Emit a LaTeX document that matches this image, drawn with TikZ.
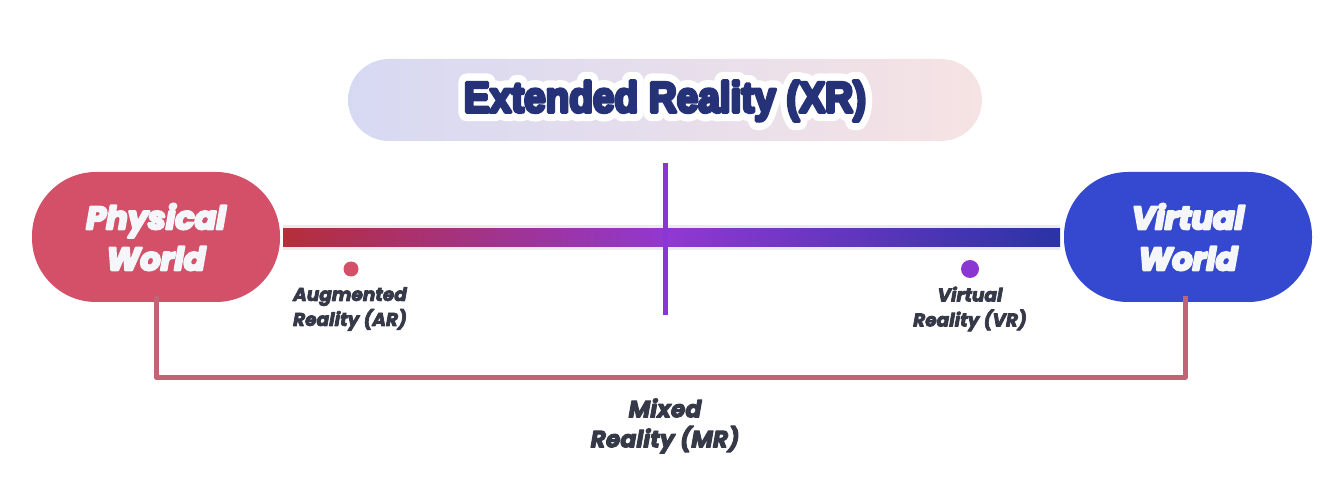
\documentclass[tikz,border=0pt]{standalone}
\usepackage{fontspec}
\newfontfamily\pop{Poppins}[FakeBold=7]
\newfontfamily\pops{Poppins}[FakeBold=4]
\newfontfamily\xrfont{Liberation Sans Bold}[FakeBold=8]
\newfontfamily\xrout{Liberation Sans Bold}[FakeBold=42]
\definecolor{pwcol}{HTML}{D44F68}
\definecolor{vwcol}{HTML}{3448D0}
\definecolor{txtlight}{HTML}{F5F6FA}
\definecolor{darktxt}{HTML}{363A48}
\definecolor{xrtext}{HTML}{263278}
\definecolor{brkt}{HTML}{C26474}
\definecolor{ardot}{HTML}{D45068}
\definecolor{vrdot}{HTML}{8B36D2}
\definecolor{vline}{HTML}{8A36D6}
\definecolor{barL}{HTML}{B62E3A}
\definecolor{barM}{HTML}{9038D2}
\definecolor{barR}{HTML}{2A33A6}
\definecolor{xrL}{HTML}{D7D9F3}
\definecolor{xrR}{HTML}{F6E3E4}
\tikzset{
  pill/.style={rectangle, rounded corners=64pt, minimum width=248pt, minimum height=130pt, inner sep=0pt,
    align=center, text=txtlight, font=\pop\bfseries\itshape\fontsize{32}{41}\selectfont},
  smalllab/.style={align=center, text=darktxt, inner sep=0pt, font=\pops\bfseries\itshape\fontsize{18.5}{25}\selectfont},
  mrlab/.style={align=center, text=darktxt, inner sep=0pt, font=\pops\bfseries\itshape\fontsize{23.5}{30}\selectfont},
  dotmark/.style={circle, inner sep=0pt},
  xrtxt/.style={inner sep=0pt, xscale=0.9},
}
\begin{document}
\begin{tikzpicture}[x=1pt,y=-1pt, line join=round]
\useasboundingbox (0,0) rectangle (1333,486);
% XR banner
\node[rectangle, rounded corners=41pt, minimum width=634pt, minimum height=82pt, left color=xrL, right color=xrR, inner sep=0pt] (xr) at (665,100) {};
\coordinate (xrc) at (665,101);
\node[xrtxt, text=white, font=\xrout\fontsize{43}{43}\selectfont] (xrw) at (xrc) {Extended Reality (XR)};
\node[xrtxt, text=xrtext, font=\xrfont\fontsize{43}{43}\selectfont] (xrt) at (xrc) {Extended Reality (XR)};
% pills
\node[pill, fill=pwcol] (pw) at (156,237) {Physical\\World};
\node[pill, fill=vwcol] (vw) at (1188,237) {Virtual\\World};
% bar
\coordinate (barl) at (283,238);
\coordinate (barr) at (1060,238);
\fill[black!12] ([yshift=-11pt]barl) rectangle ([yshift=12pt]barr);
\fill[black!8] ([yshift=-12pt]barl) rectangle ([yshift=13pt]barr);
\shade[left color=barL, right color=barR, middle color=barM] ([yshift=-9pt]barl) rectangle ([yshift=9pt]barr);
% vertical line
\coordinate (vt) at (665,163);
\coordinate (vb) at (665,315);
\draw[vline, line width=5pt] (vt) -- (vb);
% AR / VR
\node[dotmark, fill=ardot, minimum size=15pt] (ard) at (351,269) {};
\node[smalllab] (ar) at (350,309) {Augmented\\Reality (AR)};
\node[dotmark, fill=vrdot, minimum size=18pt] (vrd) at (970,269) {};
\node[smalllab] (vr) at (970,309) {Virtual\\Reality (VR)};
% MR bracket
\coordinate (mrc) at (665,377);
\draw[brkt, line width=5pt] ([yshift=6pt]pw.south) |- (mrc) -| ([xshift=-3pt,yshift=6pt]vw.south);
\node[mrlab] (mr) at (665,426) {Mixed\\Reality (MR)};
\end{tikzpicture}
\end{document}
